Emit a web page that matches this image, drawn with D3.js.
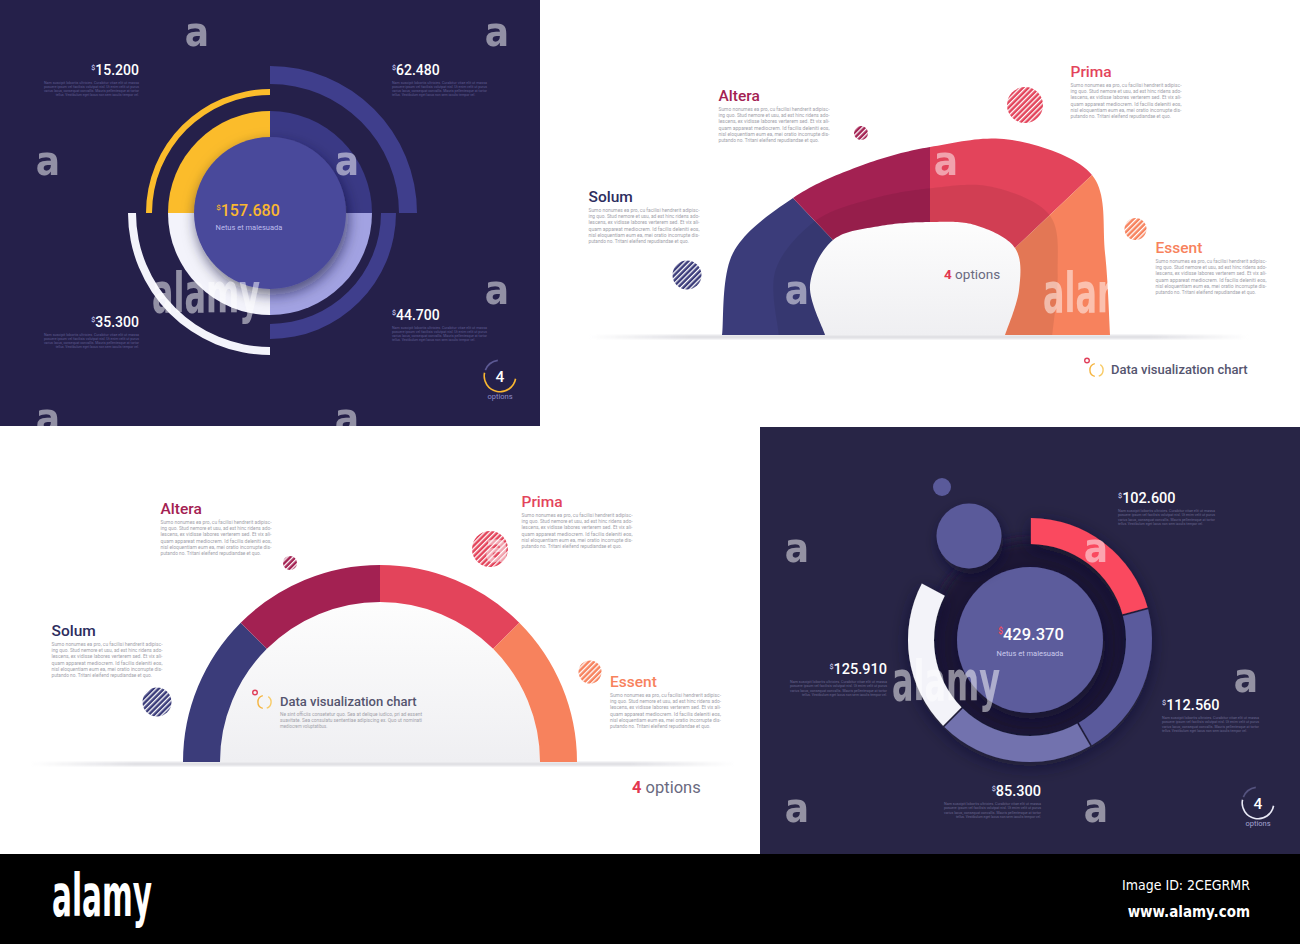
<!DOCTYPE html>
<html>
<head>
<meta charset="utf-8">
<script src="https://cdnjs.cloudflare.com/ajax/libs/d3/7.8.5/d3.min.js"></script>
<style>
  html, body { margin: 0; padding: 0; background: #fff; }
  svg { display: block; }
</style>
</head>
<body>
<svg id="chart" width="1300" height="944"></svg>
<script>
// ---------- data ----------
const options = ['Solum', 'Altera', 'Prima', 'Essent'];
const optionShares = [25, 25, 25, 25];

// top-left radial: clockwise from 12 o'clock
const tlValues = [62480, 44700, 35300, 15200];
const tlShares = [25, 25, 25, 25];
const tlTotal = 157680;

// bottom-right ring: clockwise from 12 o'clock, spans in degrees
const brValues = [102600, 112560, 85300, 125910];
const brSpans = [75, 75, 75, 73];
const brTotal = 429370;

const centerCaption = 'Netus et malesuada';
const optionsCount = 4;

const bodyLight = [
    'Sumo nonumes ea pro, cu facilisi hendrerit adipisc-',
    'ing quo. Stud nemore et usu, ad est hinc ridens ado-',
    'lescens, ex vidisse labores verterem sed. Et vix ali-',
    'quam appareat mediocrem. Id facilis deleniti eos,',
    'nisl eloquentiam eum ea, mei oratio incorrupte dis-',
    'putando no. Tritani eleifend repudiandae et quo.'
];
const bodyDark = [
    'Nam suscipit lobortis ultricies. Curabitur vitae elit ut massa',
    'posuere ipsum vel facilisis volutpat nisl. Ut enim velit ut purus',
    'varius lacus, consequat convallis. Mauris pellentesque at tortor',
    'tellus. Vestibulum eget lacus non sem iaculis tempor vel.'
];
const vizBody = [
    'Ne sint officiis consetetur quo. Sea at delique iudico, pri ad essent',
    'suavitate. Sea consulatu sententiae adipiscing ex. Quo ut nominati',
    'mediocrem voluptatibus.'
];

// ---------- layout / style ----------
const optionColors = ['#3b3c7a', '#a32152', '#e3445b', '#f7825d'];
const tlSectorColors = ['#3a3985', '#a2a2e2', '#f3f3fb', '#fbbc2b'];
const tlRingColors = ['#3f3e8c', '#3f3e8c', '#f3f3fb', '#fbbc2b'];
const tlRings = [[129, 147], [111, 126], [134, 142], [118, 124]];
const tlLabelPos = [[392, 75, 'start'], [392, 320, 'start'], [139, 327, 'end'], [139, 75, 'end']];
const brColors = ['#fa4a5f', '#5a5a9c', '#7272ae', '#f3f3f9'];
const brLabelPos = [[1118, 503, 'start'], [1162, 710, 'start'], [1041, 796, 'end'], [887, 674, 'end']];

// arch outline of the tilted donut (top-right), one point per 22.5 degrees
const archOuter = [[722, 335], [733, 253], [793, 198], [860, 166], [930, 147], [1012, 140], [1092, 175], [1105, 253], [1110, 335]];
const archInner = [[825, 335], [810, 285], [833, 240], [880, 226], [930, 222], [975, 225], [1015, 248], [1019, 290], [1005, 335]];

const trLabelPos = [[588.5, 202], [718.5, 101], [1070.5, 77], [1155.5, 253]];
const trDots = [[687, 275, 14.5], [861, 133, 7], [1025, 105, 18], [1135.5, 229, 11]];
const blLabelPos = [[51.5, 636], [160.5, 514], [521.5, 507], [610, 687]];
const blDots = [[157, 702, 14.5], [290, 563, 7], [490, 549, 18], [590, 672, 11.5]];

const FONT = 'Roboto, "Open Sans", sans-serif';
const NARROW = '"Liberation Sans Narrow", "DejaVu Sans Condensed", sans-serif';
const toRad = d3.scaleLinear().domain([0, 360]).range([0, 2 * Math.PI]);
const fmt = d3.formatLocale({ decimal: ',', thousands: '.', grouping: [3], currency: ['$', ''] }).format(',');

const svg = d3.select('#chart');
const defs = svg.append('defs');

// ---------- backgrounds ----------
svg.append('rect').attr('width', 1300).attr('height', 944).attr('fill', '#ffffff');
svg.append('rect').attr('x', 0).attr('y', 0).attr('width', 540).attr('height', 426).attr('fill', '#25204a');
svg.append('rect').attr('x', 760).attr('y', 427).attr('width', 540).attr('height', 427).attr('fill', '#282546');
svg.append('rect').attr('x', 0).attr('y', 854).attr('width', 1300).attr('height', 90).attr('fill', '#000');

// ---------- defs ----------
function dropShadow(id, dx, dy, sd, color, op) {
    const f = defs.append('filter').attr('id', id)
        .attr('x', '-50%').attr('y', '-50%').attr('width', '200%').attr('height', '200%');
    f.append('feDropShadow').attr('dx', dx).attr('dy', dy).attr('stdDeviation', sd)
        .attr('flood-color', color).attr('flood-opacity', op);
}
dropShadow('discShadow', 2, 6, 7, '#120e33', 0.6);
dropShadow('ringShadow', 0, 4, 9, '#12102c', 0.6);
defs.append('filter').attr('id', 'blur6').attr('x', '-50%').attr('y', '-50%').attr('width', '200%').attr('height', '200%')
    .append('feGaussianBlur').attr('stdDeviation', 6);
defs.append('filter').attr('id', 'blur1').append('feGaussianBlur').attr('stdDeviation', 1);

// hatched fills for the little dots
options.forEach((o, i) => {
    const p = defs.append('pattern').attr('id', 'hatch' + i)
        .attr('patternUnits', 'userSpaceOnUse').attr('width', 3.8).attr('height', 3.8)
        .attr('patternTransform', 'rotate(45)');
    p.append('rect').attr('width', 3.8).attr('height', 3.8).attr('fill', optionColors[i]);
    p.append('rect').attr('width', 1.3).attr('height', 3.8).attr('fill', '#ffffff');
});

// floor and hole gradients
const floorGrad = defs.append('linearGradient').attr('id', 'floorGrad');
[[0, 0], [0.15, 0.8], [0.85, 0.8], [1, 0]].forEach(([o, a]) =>
    floorGrad.append('stop').attr('offset', o).attr('stop-color', '#d6d6dc').attr('stop-opacity', a));
const holeGrad = defs.append('linearGradient').attr('id', 'holeGrad').attr('x1', 0).attr('y1', 0).attr('x2', 0).attr('y2', 1);
holeGrad.append('stop').attr('offset', 0).attr('stop-color', '#fdfdfd');
holeGrad.append('stop').attr('offset', 1).attr('stop-color', '#efeff2');

// ---------- helpers ----------
function bodyText(g, x, y, lines, o) {
    const maxLen = d3.max(lines, l => l.length);
    lines.forEach((line, i) => {
        const last = i === lines.length - 1;
        g.append('text')
            .attr('x', x).attr('y', y + i * o.lh)
            .attr('text-anchor', o.anchor || 'start')
            .attr('font-family', FONT).attr('font-size', o.fs)
            .attr('fill', o.fill)
            .attr('textLength', last ? o.w * Math.min(1, line.length / maxLen) : o.w)
            .attr('lengthAdjust', 'spacingAndGlyphs')
            .text(line);
    });
}

function moneyText(g, x, y, value, anchor, size, color, dollarColor) {
    const t = g.append('text').attr('x', x).attr('y', y)
        .attr('text-anchor', anchor).attr('font-family', FONT)
        .attr('font-weight', 500).attr('fill', color);
    t.append('tspan').attr('font-size', size * 0.5).attr('dy', -size * 0.36).attr('fill', dollarColor).text('$');
    t.append('tspan').attr('font-size', size).attr('dy', size * 0.36).text(fmt(value));
    return t;
}

function badge(g, x, y, color, muted, optFill) {
    const arc = d3.arc().innerRadius(15).outerRadius(16.6);
    const b = g.append('g').attr('transform', `translate(${x},${y})`);
    b.append('path').attr('d', arc({ startAngle: toRad(100), endAngle: toRad(282) })).attr('fill', color);
    b.append('path').attr('d', arc({ startAngle: toRad(292), endAngle: toRad(352) })).attr('fill', muted);
    b.append('text').attr('y', 5.5).attr('text-anchor', 'middle').attr('font-family', FONT)
        .attr('font-weight', 500).attr('font-size', 15.5).attr('fill', '#ffffff').text(optionsCount);
    b.append('text').attr('y', 23).attr('text-anchor', 'middle').attr('font-family', FONT)
        .attr('font-size', 7.5).attr('fill', optFill).text('options');
}

function vizIcon(g, x, y) {
    g.append('circle').attr('cx', x - 9.5).attr('cy', y - 9.5).attr('r', 2.3)
        .attr('fill', 'none').attr('stroke', '#e0405a').attr('stroke-width', 1.4);
    const arc = d3.arc().innerRadius(5.9).outerRadius(7.3);
    g.append('path').attr('transform', `translate(${x},${y})`)
        .attr('d', arc({ startAngle: toRad(195), endAngle: toRad(345) })).attr('fill', '#f5b43f');
    g.append('path').attr('transform', `translate(${x},${y})`)
        .attr('d', arc({ startAngle: toRad(35), endAngle: toRad(160) })).attr('fill', '#f8cb66');
}

function optionLabels(g, pos, dots) {
    options.forEach((name, i) => {
        g.append('text').attr('x', pos[i][0]).attr('y', pos[i][1])
            .attr('font-family', FONT).attr('font-weight', 500).attr('font-size', 15.5)
            .attr('fill', i === 0 ? '#2d2d5e' : optionColors[i]).text(name);
        bodyText(g, pos[i][0], pos[i][1] + 10, bodyLight, { lh: 6.2, fs: 4.6, w: 111, fill: '#a2a2aa' });
        g.append('circle').attr('cx', dots[i][0]).attr('cy', dots[i][1]).attr('r', dots[i][2])
            .attr('fill', `url(#hatch${i})`);
    });
}

function floor(g, x0, x1, y) {
    g.append('rect').attr('x', x0).attr('y', y - 1).attr('width', x1 - x0).attr('height', 4)
        .attr('fill', 'url(#floorGrad)').attr('filter', 'url(#blur1)');
}

// ---------- top-left: radial quadrants ----------
const tl = svg.append('g').attr('transform', 'translate(270,213)');
const tlPie = d3.pie().sort(null).value(d => d)(tlShares);
tl.selectAll('path.sector').data(tlPie).join('path').attr('class', 'sector')
    .attr('d', d3.arc().innerRadius(0).outerRadius(102))
    .attr('fill', (d, i) => tlSectorColors[i]);
tl.selectAll('path.ring').data(tlPie).join('path').attr('class', 'ring')
    .attr('d', (d, i) => d3.arc().innerRadius(tlRings[i][0]).outerRadius(tlRings[i][1])(d))
    .attr('fill', (d, i) => tlRingColors[i]);
tl.append('circle').attr('r', 76).attr('fill', '#4a499b').attr('filter', 'url(#discShadow)');

const tlText = svg.append('g');
tlValues.forEach((v, i) => {
    const [x, y, anchor] = tlLabelPos[i];
    moneyText(tlText, x, y, v, anchor, 14, '#ffffff', '#c8c8f2');
    bodyText(tlText, x, y + 9, bodyDark, { lh: 3.9, fs: 3.3, w: 95, fill: '#5f5c90', anchor });
});
moneyText(tlText, 248, 216, tlTotal, 'middle', 16, '#f9b731', '#f9b731');
tlText.append('text').attr('x', 249).attr('y', 229.5).attr('text-anchor', 'middle')
    .attr('font-family', FONT).attr('font-size', 7.5).attr('fill', '#bdbcec').text(centerCaption);
badge(svg, 500, 376, '#f9b731', '#5c5994', '#8e8cc8');

// ---------- top-right: tilted donut ----------
function crPoint(pts, s) {
    const n = pts.length - 1;
    const i = Math.max(0, Math.min(Math.floor(s), n - 1));
    const t = s - i;
    const p0 = pts[Math.max(i - 1, 0)], p1 = pts[i], p2 = pts[i + 1], p3 = pts[Math.min(i + 2, n)];
    return [0, 1].map(k => 0.5 * ((2 * p1[k]) + (-p0[k] + p2[k]) * t +
        (2 * p0[k] - 5 * p1[k] + 4 * p2[k] - p3[k]) * t * t +
        (-p0[k] + 3 * p1[k] - 3 * p2[k] + p3[k]) * t * t * t));
}
const archS = d3.scaleLinear().domain([-Math.PI / 2, Math.PI / 2]).range([0, archOuter.length - 1]);
function warp(a, t) {
    const s = archS(a);
    const o = crPoint(archOuter, s), q = crPoint(archInner, s);
    return [q[0] + (o[0] - q[0]) * t, q[1] + (o[1] - q[1]) * t];
}
function archPath(a0, a1, t0, t1) {
    const steps = d3.range(0, 41).map(k => a0 + (a1 - a0) * k / 40);
    const pts = steps.map(a => warp(a, t1)).concat(steps.slice().reverse().map(a => warp(a, t0)));
    return d3.line()(pts) + 'Z';
}

const tr = svg.append('g');
floor(tr, 588, 1250, 336);
const archPie = d3.pie().sort(null).value(d => d).startAngle(-Math.PI / 2).endAngle(Math.PI / 2)(optionShares);
const holePts = d3.range(0, 81).map(k => warp(-Math.PI / 2 + Math.PI * k / 80, 0));
tr.append('path').attr('d', d3.line()(holePts) + 'Z').attr('fill', 'url(#holeGrad)');
tr.selectAll('path.seg').data(archPie).join('path').attr('class', 'seg')
    .attr('d', d => archPath(d.startAngle, d.endAngle, 0, 1))
    .attr('fill', (d, i) => optionColors[i]);
tr.selectAll('path.band').data(archPie).join('path').attr('class', 'band')
    .attr('d', d => archPath(d.startAngle, d.endAngle, 0, 0.45))
    .attr('fill', '#000').attr('opacity', 0.08);
optionLabels(tr, trLabelPos, trDots);
const trOpt = tr.append('text').attr('x', 944).attr('y', 279).attr('font-family', FONT).attr('font-size', 13.5);
trOpt.append('tspan').attr('font-weight', 700).attr('fill', '#e2374f').text(optionsCount);
trOpt.append('tspan').attr('fill', '#6a6a80').text(' options');
vizIcon(tr, 1096.5, 370);
tr.append('text').attr('x', 1111).attr('y', 374).attr('font-family', FONT).attr('font-weight', 500)
    .attr('font-size', 13).attr('fill', '#55556f').text('Data visualization chart');

// ---------- bottom-left: half donut ----------
const bl = svg.append('g');
floor(bl, 30, 735, 763);
const blArch = bl.append('g').attr('transform', 'translate(380,762)');
blArch.append('path')
    .attr('d', d3.arc().innerRadius(0).outerRadius(160)({ startAngle: -Math.PI / 2, endAngle: Math.PI / 2 }))
    .attr('fill', 'url(#holeGrad)');
blArch.selectAll('path.seg').data(archPie).join('path').attr('class', 'seg')
    .attr('d', d3.arc().innerRadius(160).outerRadius(197))
    .attr('fill', (d, i) => optionColors[i]);
optionLabels(bl, blLabelPos, blDots);
vizIcon(bl, 264.5, 702);
bl.append('text').attr('x', 280).attr('y', 706).attr('font-family', FONT).attr('font-weight', 500)
    .attr('font-size', 13).attr('fill', '#55556f').text('Data visualization chart');
bodyText(bl, 280, 716, vizBody, { lh: 5.8, fs: 4.5, w: 142, fill: '#a2a2aa' });
const blOpt = bl.append('text').attr('x', 632).attr('y', 793).attr('font-family', FONT).attr('font-size', 16.5);
blOpt.append('tspan').attr('font-weight', 700).attr('fill', '#e2374f').text(optionsCount);
blOpt.append('tspan').attr('fill', '#6a6a80').text(' options');

// ---------- bottom-right: ring with a gap ----------
const br = svg.append('g').attr('transform', 'translate(1030,640)');
br.append('circle').attr('r', 100).attr('fill', '#1c1936').attr('filter', 'url(#blur6)');
const brPie = d3.pie().sort(null).value(d => d).startAngle(0).endAngle(toRad(d3.sum(brSpans))).padAngle(0.012)(brSpans);
br.append('g').attr('filter', 'url(#ringShadow)')
    .selectAll('path').data(brPie).join('path')
    .attr('d', d3.arc().innerRadius(96).outerRadius(122))
    .attr('fill', (d, i) => brColors[i]);
br.append('circle').attr('r', 73).attr('fill', '#5b5b9c').attr('filter', 'url(#discShadow)');
svg.append('circle').attr('cx', 969).attr('cy', 536).attr('r', 32.5).attr('fill', '#5a5a9a').attr('filter', 'url(#discShadow)');
svg.append('circle').attr('cx', 942).attr('cy', 487).attr('r', 9).attr('fill', '#5a5a9a');

const brText = svg.append('g');
brValues.forEach((v, i) => {
    const [x, y, anchor] = brLabelPos[i];
    moneyText(brText, x, y, v, anchor, 14.5, '#ffffff', '#c8c8e8');
    bodyText(brText, x, y + 9, bodyDark, { lh: 4.4, fs: 3.4, w: 97, fill: '#68668f', anchor });
});
moneyText(brText, 1031, 640, brTotal, 'middle', 16.5, '#ffffff', '#f84c60');
brText.append('text').attr('x', 1030).attr('y', 656).attr('text-anchor', 'middle')
    .attr('font-family', FONT).attr('font-size', 7.5).attr('fill', '#cacaec').text(centerCaption);
badge(svg, 1258, 803, '#e9e9f6', '#55537f', '#a5a4d2');

// ---------- stock watermark (only where it shows in the picture) ----------
const wm = svg.append('g').attr('fill', '#ffffff').attr('opacity', 0.5)
    .attr('font-family', NARROW).attr('font-weight', 700);
const wmRows = [35, 164, 293, 421, 551, 681, 811];
const wmBig = [[206, 293], [1097, 293], [946, 681]];
const onWhite = (x, y) => (x > 540 && y < 426 && !(y > 140 && y < 335 && x > 720 && x < 1110)) || (x < 760 && y > 426 && x !== 497);
wmRows.forEach((y, r) => {
    const xs = r % 2 === 0 ? [197, 497, 797, 1096] : [48, 347, 647, 946, 1246];
    xs.forEach(x => {
        if (wmBig.some(([bx, by]) => Math.abs(bx - x) < 12 && by === y)) return;
        if (onWhite(x, y)) return;
        wm.append('text').attr('x', x).attr('y', y + 11).attr('text-anchor', 'middle')
            .attr('font-size', 40).text('a');
    });
});
wmBig.forEach(([x, y]) => {
    const t = wm.append('text').attr('text-anchor', 'middle').attr('font-size', 56).text('alamy');
    const sx = 108 / t.node().getComputedTextLength();
    t.attr('transform', `translate(${x},${y + 19}) scale(${sx},1)`);
});

// bottom bar
const bar = svg.append('g').attr('fill', '#ffffff').attr('font-family', NARROW);
const barLogo = bar.append('text').attr('font-weight', 700).attr('font-size', 58).text('alamy');
barLogo.attr('transform', `translate(52,916) scale(${100 / barLogo.node().getComputedTextLength()},1)`);
bar.append('text').attr('x', 1250).attr('y', 890).attr('text-anchor', 'end').attr('font-size', 14).text('Image ID: 2CEGRMR');
bar.append('text').attr('x', 1250).attr('y', 917).attr('text-anchor', 'end').attr('font-weight', 700).attr('font-size', 15).text('www.alamy.com');
</script>
</body>
</html>
